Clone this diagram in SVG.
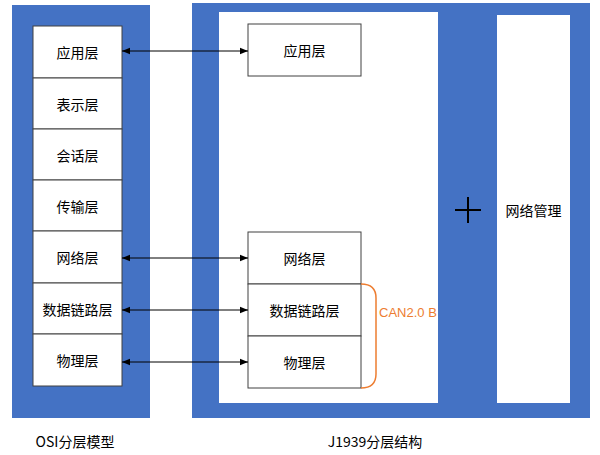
<svg xmlns="http://www.w3.org/2000/svg" width="600" height="455" viewBox="0 0 600 455">
<style>
.blue{fill:#4472c4}
.box{fill:#fff;stroke:#404040;stroke-width:1}
.t{font-family:"Noto Sans CJK SC","Liberation Sans",sans-serif;font-size:14px;fill:#000;text-anchor:middle;dominant-baseline:central}
.c{stroke:#000;stroke-width:1;fill:none;marker-start:url(#a);marker-end:url(#a)}
</style>
<defs><marker id="a" viewBox="0 0 10 10" refX="10" refY="5" markerWidth="8" markerHeight="8" orient="auto-start-reverse" markerUnits="userSpaceOnUse"><path d="M0,1 L10,5 L0,9 z" fill="#000"/></marker></defs>
<rect class="blue" x="12" y="5" width="138" height="413"/>
<rect class="blue" x="192" y="3" width="398" height="415"/>
<rect x="219" y="12" width="219" height="391" fill="#fff"/>
<rect x="497" y="15" width="73" height="388" fill="#fff"/>
<g id="osi">
<g id="o1"><rect class="box" x="33" y="26" width="89" height="52"/><text class="t" x="77.5" y="52">应用层</text></g>
<g id="o2"><rect class="box" x="33" y="78" width="89" height="51"/><text class="t" x="77.5" y="103.5">表示层</text></g>
<g id="o3"><rect class="box" x="33" y="129" width="89" height="51"/><text class="t" x="77.5" y="154.5">会话层</text></g>
<g id="o4"><rect class="box" x="33" y="180" width="89" height="51"/><text class="t" x="77.5" y="205.5">传输层</text></g>
<g id="o5"><rect class="box" x="33" y="231" width="89" height="52"/><text class="t" x="77.5" y="257">网络层</text></g>
<g id="o6"><rect class="box" x="33" y="283" width="89" height="51"/><text class="t" x="77.5" y="308.5">数据链路层</text></g>
<g id="o7"><rect class="box" x="33" y="334" width="89" height="52"/><text class="t" x="77.5" y="360">物理层</text></g>
</g>
<g id="j1939">
<g id="j1"><rect class="box" x="248" y="24" width="113" height="52"/><text class="t" x="304.5" y="50">应用层</text></g>
<g id="j2"><rect class="box" x="248" y="232" width="113" height="52"/><text class="t" x="304.5" y="258">网络层</text></g>
<g id="j3"><rect class="box" x="248" y="284" width="113" height="52"/><text class="t" x="304.5" y="310">数据链路层</text></g>
<g id="j4"><rect class="box" x="248" y="336" width="113" height="52"/><text class="t" x="304.5" y="362">物理层</text></g>
</g>
<g id="nm"><text class="t" x="533.5" y="210">网络管理</text></g>
<g id="plus" stroke="#000" stroke-width="2"><line x1="455" y1="210" x2="481" y2="210"/><line x1="468" y1="197" x2="468" y2="223"/></g>
<g id="connectors">
<line class="c" x1="122" y1="51" x2="248" y2="51"/>
<line class="c" x1="122" y1="258" x2="248" y2="258"/>
<line class="c" x1="122" y1="310" x2="248" y2="310"/>
<line class="c" x1="122" y1="362" x2="248" y2="362"/>
<path d="M361,284 Q376,284 376,298 L376,374 Q376,388 361,388" stroke="#ed7d31" stroke-width="1.5" fill="none"/>
</g>
<text x="379" y="317" font-family="Liberation Sans,sans-serif" font-size="13" fill="#ed7d31">CAN2.0 B</text>
<text class="t" x="75" y="441">OSI分层模型</text>
<text class="t" x="375" y="441">J1939分层结构</text>
</svg>
